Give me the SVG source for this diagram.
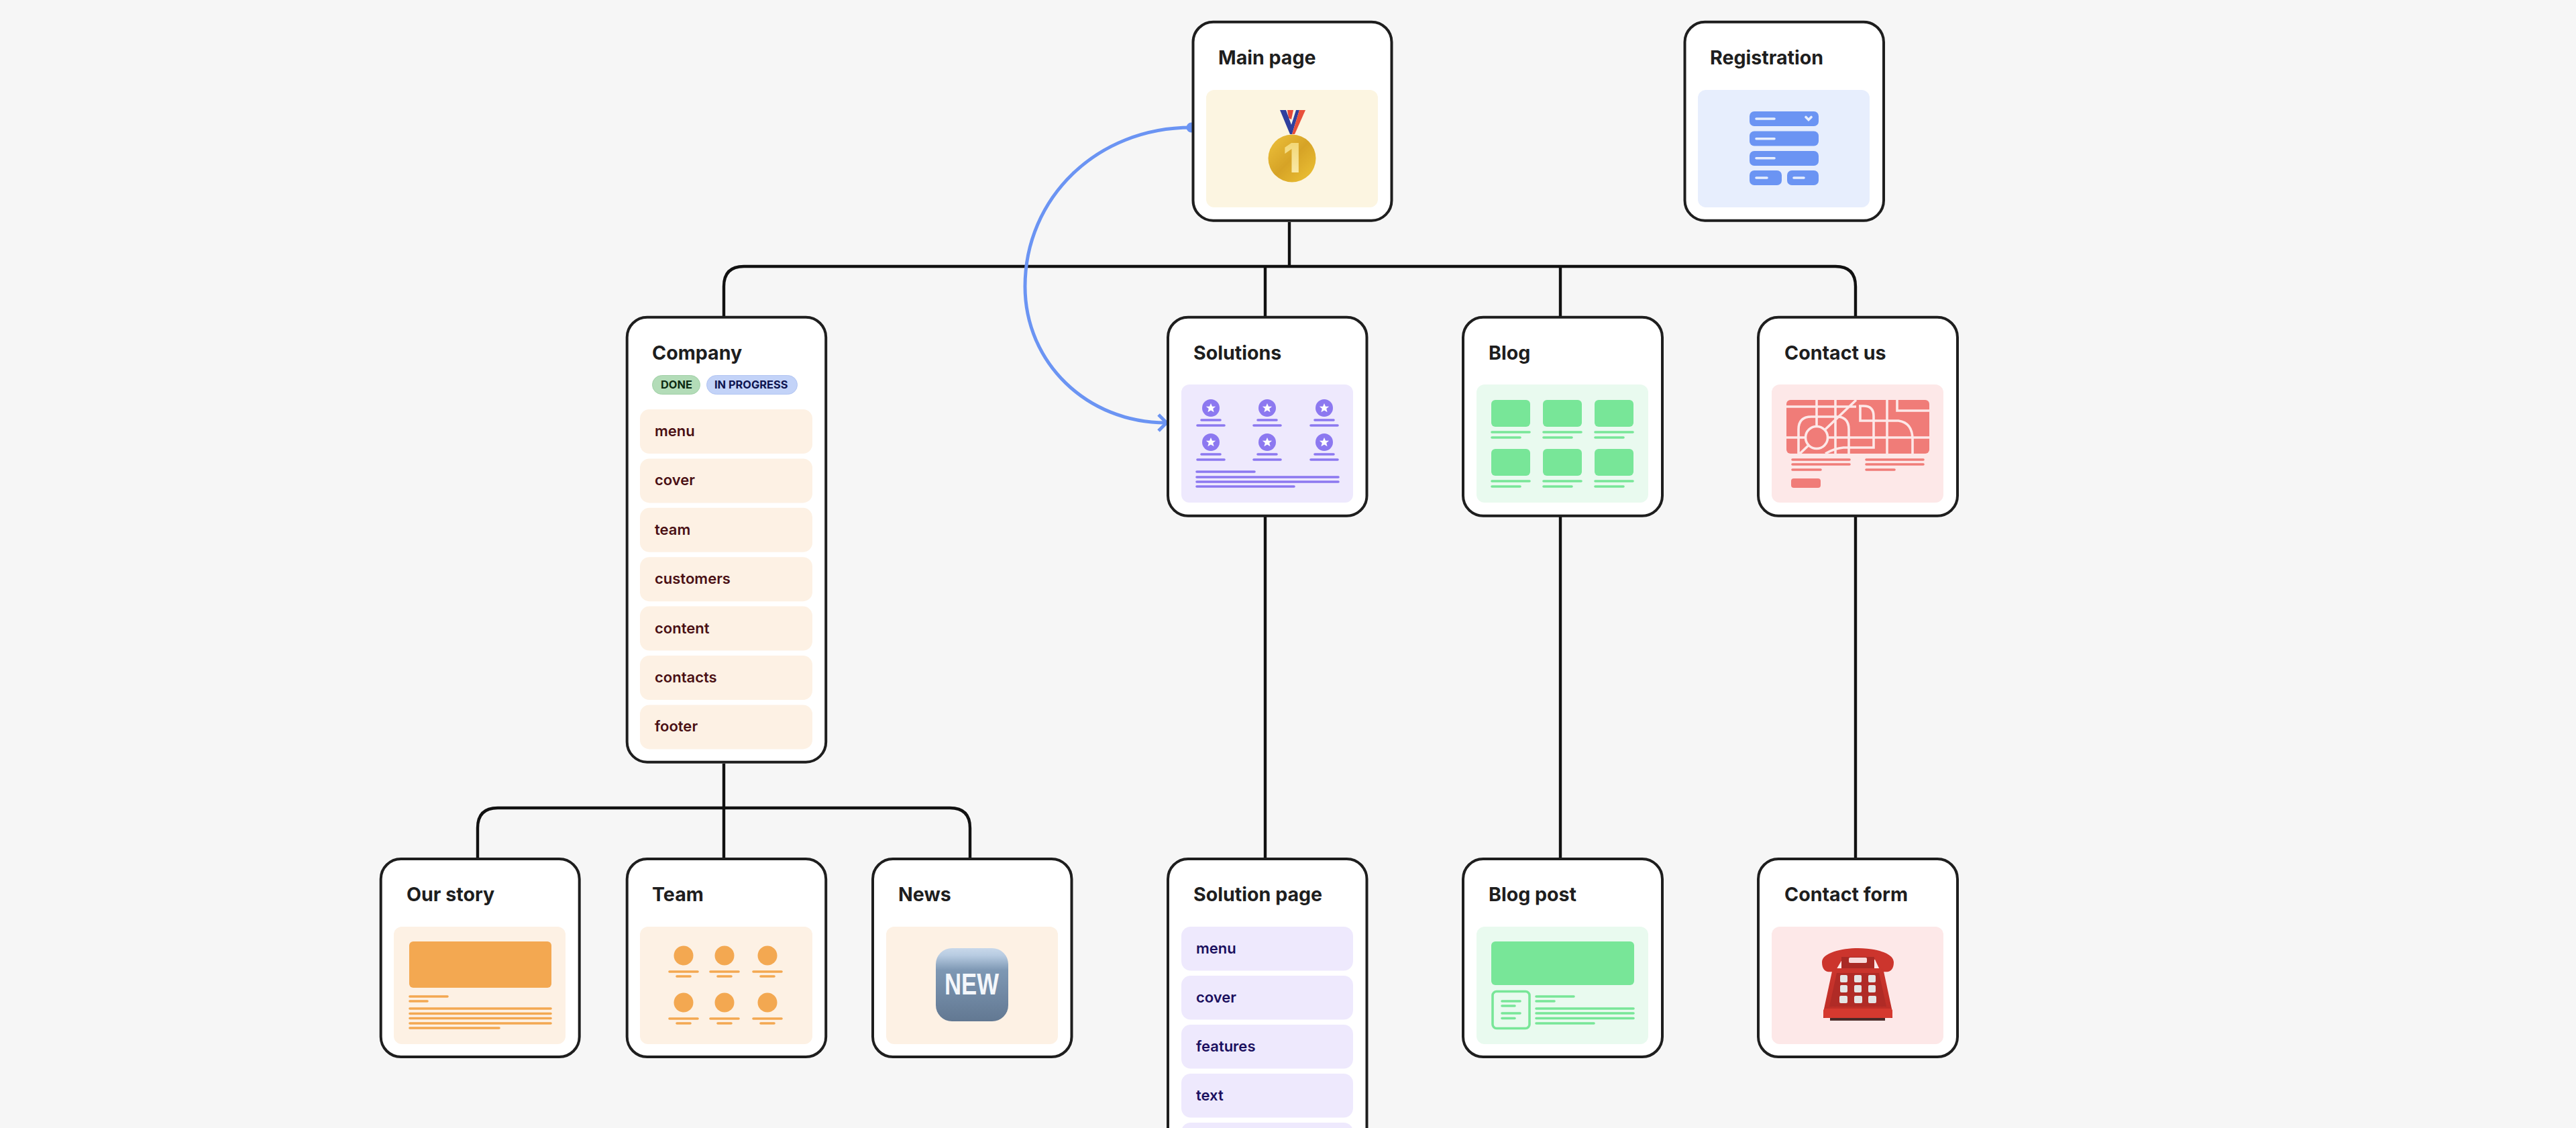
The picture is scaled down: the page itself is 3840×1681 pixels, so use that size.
<svg xmlns="http://www.w3.org/2000/svg" width="3840" height="1681" viewBox="0 0 3840 1681">
<style>
text{font-family:"Inter","Liberation Sans",sans-serif}
.box{fill:#fff;stroke:#1e1e1e;stroke-width:4}
.t{font-size:28.6px;font-weight:700;fill:#1e1e1e}
.ci{font-size:22px;font-weight:600;fill:#4a1014}
.si{font-size:22px;font-weight:600;fill:#1a0f5e}
.bt{font-size:16.4px;font-weight:700}
.cn{fill:none;stroke:#111;stroke-width:4.4}
.ln{fill:none;stroke-width:3.6;stroke-linecap:round}
.pu{stroke:#8c78f0}.gr{stroke:#78e698}.re{stroke:#f07c78}.or{stroke:#f3a851}
.fpu{fill:#8c78f0}.fgr{fill:#78e698}.fre{fill:#f07c78}.for{fill:#f3a851}.fbl{fill:#6b94f3}
.pcream{fill:#fcf5e1}.pblue{fill:#e7eefd}.ppu{fill:#eee9fd}.pgr{fill:#e9faef}.pre{fill:#fde8e8}.por{fill:#fdf1e4}
.map{fill:none;stroke:#fde8e8;stroke-width:3.6}
</style>
<defs>
<linearGradient id="coin" x1="0" y1="0" x2="1" y2="1"><stop offset="0" stop-color="#eec23c"/><stop offset=".5" stop-color="#d6a326"/><stop offset="1" stop-color="#efc436"/></linearGradient>
<linearGradient id="one" x1="0" y1="0" x2="0" y2="1"><stop offset="0" stop-color="#f0d26a"/><stop offset="1" stop-color="#fbeeb4"/></linearGradient>
<linearGradient id="newg" x1="0" y1="0" x2="0" y2="1"><stop offset="0" stop-color="#c8d8ea"/><stop offset=".1" stop-color="#b7cbe1"/><stop offset=".3" stop-color="#7e98b4"/><stop offset="1" stop-color="#627892"/></linearGradient>
<linearGradient id="telg" x1="0" y1="0" x2="0" y2="1"><stop offset="0" stop-color="#cb352d"/><stop offset="1" stop-color="#bb2d26"/></linearGradient>
<path id="star" d="M0-7 2-2.2 7.2-2.2 3.2 1 4.6 6.2 0 3.4-4.6 6.2-3.2 1-7.2-2.2-2-2.2Z" fill="#fff"/>
<g id="award"><circle r="13" class="fpu"/><use href="#star"/><path class="ln pu" d="M-14 18H14M-20 26H20"/></g>
<g id="thumb"><rect width="58" height="40" rx="6" class="fgr"/><path class="ln gr" d="M1 48H57M1 56H43"/></g>
<g id="person"><circle r="14.5" class="for"/><path class="ln or" d="M-21 24H21M-10 31H10"/></g>
</defs>
<rect width="3840" height="1681" fill="#f6f6f6"/>

<g id="connectors">
<path class="cn" d="M1922 331V397"/>
<path class="cn" d="M1079 472V427Q1079 397 1109 397H2736Q2766 397 2766 427V472"/>
<path class="cn" d="M1886 397V472M2326 397V472"/>
<path class="cn" d="M1886 770V1279M2326 770V1279M2766 770V1279"/>
<path class="cn" d="M1079 1138V1279"/>
<path class="cn" d="M712 1279V1234Q712 1204 742 1204H1416Q1446 1204 1446 1234V1279"/>
<path d="M1776 190C1635 190 1528 295 1528 427C1528 540 1620 630 1738 630" fill="none" stroke="#6b94f3" stroke-width="5"/>
<path d="M1727 618 1739 630 1727 642" fill="none" stroke="#6b94f3" stroke-width="5"/>
<circle cx="1776" cy="190" r="7.5" class="fbl"/>
</g>

<g id="node-main">
<rect class="box" x="1778.5" y="32.7" width="296" height="296" rx="30"/>
<text class="t" x="1816" y="95.5">Main page</text>
<rect class="pcream" x="1798" y="134" width="256" height="175" rx="12"/>
<path d="M1919 164H1928L1925 178 1921 176Z" fill="#e2483a"/>
<path d="M1925 180 1937 164H1946L1928 200H1924Z" fill="#f4f4f4"/>
<path d="M1908 164H1917L1925 186 1932 164H1937L1926 200H1923Z" fill="#2f3f9e"/>
<path d="M1937 164H1946L1930 200H1926Z" fill="#e8503a"/>
<circle cx="1926" cy="236" r="35.5" fill="url(#coin)"/>
<text x="1926" y="257" text-anchor="middle" font-size="60" font-weight="800" fill="url(#one)">1</text>
</g>

<g id="node-registration">
<rect class="box" x="2511.5" y="32.7" width="296.5" height="296" rx="30"/>
<text class="t" x="2549" y="95.5">Registration</text>
<rect class="pblue" x="2531" y="134" width="256" height="175" rx="12"/>
<rect class="fbl" x="2608" y="166" width="103" height="22" rx="7"/>
<rect class="fbl" x="2608" y="195.5" width="103" height="22" rx="7"/>
<rect class="fbl" x="2608" y="225" width="103" height="22" rx="7"/>
<rect class="fbl" x="2608" y="254" width="48" height="22" rx="7"/>
<rect class="fbl" x="2664" y="254" width="47" height="22" rx="7"/>
<path d="M2618 177H2645M2618 206.7H2645M2618 235.7H2645M2618 265H2634M2674 265H2689M2692 174.5 2696 178.5 2700 174.5" fill="none" stroke="#e7eefd" stroke-width="3.6" stroke-linecap="round"/>
</g>

<g id="node-company">
<rect class="box" x="934.7" y="472.7" width="296.5" height="663" rx="30"/>
<text class="t" x="972" y="535.5">Company</text>
<rect x="972.5" y="559.5" width="71" height="28" rx="14" fill="#b3dcb8" stroke="#a0d0a6"/>
<text class="bt" x="985" y="579" fill="#0d2b12">DONE</text>
<rect x="1053.5" y="559.5" width="135" height="28" rx="14" fill="#c3d3f8" stroke="#b2c5f2"/>
<text class="bt" x="1065" y="579" fill="#0e1450">IN PROGRESS</text>
<g class="por">
<rect x="954" y="610" width="257" height="66" rx="14"/>
<rect x="954" y="683.4" width="257" height="66" rx="14"/>
<rect x="954" y="756.8" width="257" height="66" rx="14"/>
<rect x="954" y="830.2" width="257" height="66" rx="14"/>
<rect x="954" y="903.6" width="257" height="66" rx="14"/>
<rect x="954" y="977" width="257" height="66" rx="14"/>
<rect x="954" y="1050.4" width="257" height="66" rx="14"/>
</g>
<text class="ci" x="976" y="649.5">menu</text>
<text class="ci" x="976" y="723">cover</text>
<text class="ci" x="976" y="797">team</text>
<text class="ci" x="976" y="870">customers</text>
<text class="ci" x="976" y="943.5">content</text>
<text class="ci" x="976" y="1017">contacts</text>
<text class="ci" x="976" y="1090">footer</text>
</g>

<g id="node-solutions">
<rect class="box" x="1741" y="472.7" width="296.5" height="296" rx="30"/>
<text class="t" x="1779" y="535.5">Solutions</text>
<rect class="ppu" x="1761" y="573" width="256" height="176" rx="12"/>
<use href="#award" x="1805" y="608"/><use href="#award" x="1889" y="608"/><use href="#award" x="1974" y="608"/>
<use href="#award" x="1805" y="659"/><use href="#award" x="1889" y="659"/><use href="#award" x="1974" y="659"/>
<path class="ln pu" d="M1784 703H1870M1784 711H1995M1784 718H1995M1784 725H1929"/>
</g>

<g id="node-blog">
<rect class="box" x="2181" y="472.7" width="297" height="296" rx="30"/>
<text class="t" x="2219" y="535.5">Blog</text>
<rect class="pgr" x="2201" y="573" width="256" height="176" rx="12"/>
<use href="#thumb" x="2223" y="596"/><use href="#thumb" x="2300" y="596"/><use href="#thumb" x="2377" y="596"/>
<use href="#thumb" x="2223" y="669"/><use href="#thumb" x="2300" y="669"/><use href="#thumb" x="2377" y="669"/>
</g>

<g id="node-contact">
<rect class="box" x="2621" y="472.7" width="297" height="296" rx="30"/>
<text class="t" x="2660" y="535.5">Contact us</text>
<rect class="pre" x="2641" y="573" width="256" height="176" rx="12"/>
<rect class="fre" x="2663" y="596" width="213" height="80" rx="6"/>
<path class="map" d="M2663 606H2767M2708 596V636M2736 596V676M2663 652H2876M2767 596 2683 676M2813 596V676M2828 596V612H2876M2681 676V640Q2681 621 2700 621H2738Q2756 621 2756 640V676M2771 605H2778Q2793 605 2793 620V667H2748Q2735 668 2721 676M2773 605V627H2830Q2851 630 2851 655V676"/>
<circle cx="2708" cy="652" r="16.5" class="fre" stroke="#fde8e8" stroke-width="3.6"/>
<path class="ln re" d="M2672 685H2757M2672 692H2757M2672 700H2714M2782 685H2867M2782 692H2867M2782 700H2824"/>
<rect class="fre" x="2670" y="713" width="44" height="14" rx="4"/>
</g>

<g id="node-our-story">
<rect class="box" x="567.7" y="1280" width="296" height="295" rx="30"/>
<text class="t" x="606" y="1342.5">Our story</text>
<rect class="por" x="587" y="1381" width="256" height="175" rx="12"/>
<rect class="for" x="610" y="1403" width="212" height="69" rx="6"/>
<path class="ln or" d="M611 1485H667M611 1492H637M611 1503H821M611 1510.5H821M611 1517.5H821M611 1525H821M611 1532H744"/>
</g>

<g id="node-team">
<rect class="box" x="934.7" y="1280" width="296.5" height="295" rx="30"/>
<text class="t" x="972" y="1342.5">Team</text>
<rect class="por" x="954" y="1381" width="257" height="175" rx="12"/>
<use href="#person" x="1019" y="1424"/><use href="#person" x="1080" y="1424"/><use href="#person" x="1144" y="1424"/>
<use href="#person" x="1019" y="1494"/><use href="#person" x="1080" y="1494"/><use href="#person" x="1144" y="1494"/>
</g>

<g id="node-news">
<rect class="box" x="1301" y="1280" width="296.5" height="295" rx="30"/>
<text class="t" x="1339" y="1342.5">News</text>
<rect class="por" x="1321" y="1381" width="256" height="175" rx="12"/>
<rect x="1395" y="1413" width="108" height="109" rx="24" fill="url(#newg)"/>
<text x="1408" y="1482" font-size="44" font-weight="700" fill="#f4f7fb" textLength="81" lengthAdjust="spacingAndGlyphs" style="font-family:'Liberation Sans',sans-serif">NEW</text>
</g>

<g id="node-solution-page">
<rect class="box" x="1741" y="1280" width="296.5" height="620" rx="30"/>
<text class="t" x="1779" y="1342.5">Solution page</text>
<g class="ppu">
<rect x="1761" y="1381" width="256" height="65.5" rx="14"/>
<rect x="1761" y="1454" width="256" height="65.5" rx="14"/>
<rect x="1761" y="1527" width="256" height="65.5" rx="14"/>
<rect x="1761" y="1600" width="256" height="65.5" rx="14"/>
<rect x="1761" y="1673" width="256" height="65.5" rx="14"/>
</g>
<text class="si" x="1783" y="1420.5">menu</text>
<text class="si" x="1783" y="1494">cover</text>
<text class="si" x="1783" y="1567">features</text>
<text class="si" x="1783" y="1640">text</text>
</g>

<g id="node-blog-post">
<rect class="box" x="2181" y="1280" width="297" height="295" rx="30"/>
<text class="t" x="2219" y="1342.5">Blog post</text>
<rect class="pgr" x="2201" y="1381" width="256" height="175" rx="12"/>
<rect class="fgr" x="2223" y="1403" width="213" height="65" rx="6"/>
<rect x="2225" y="1477.5" width="55" height="55" rx="6" fill="none" stroke="#78e698" stroke-width="3.6"/>
<path class="ln gr" d="M2239 1492H2266M2239 1499H2258M2239 1510H2266M2239 1517.5H2258M2290 1485H2346M2290 1492H2317M2290 1503H2435M2290 1510H2435M2290 1517.5H2435M2290 1525H2376"/>
</g>

<g id="node-contact-form">
<rect class="box" x="2621" y="1280" width="297" height="295" rx="30"/>
<text class="t" x="2660" y="1342.5">Contact form</text>
<rect class="pre" x="2641" y="1381" width="256" height="175" rx="12"/>
<path d="M2716 1434C2716 1420 2745 1413 2770 1413C2795 1413 2823 1420 2823 1434C2823 1449 2813 1450 2803 1447L2795 1430H2746L2736 1447C2726 1450 2716 1449 2716 1434Z" fill="#cc352d"/>
<rect x="2745" y="1426" width="49" height="20" fill="#a92a25"/>
<rect x="2756" y="1427" width="27" height="8" rx="2" fill="#f8dcdc"/>
<path d="M2732 1443H2807L2821 1508V1517H2718V1508Z" fill="url(#telg)"/>
<path d="M2738 1450H2801L2812 1500H2727Z" fill="#b02b26"/>
<rect x="2718" y="1503" width="103" height="14" rx="4" fill="#d5392f"/>
<rect x="2728" y="1517" width="82" height="4" fill="#4a2a28"/>
<g fill="#e4e4e4">
<rect x="2743" y="1453" width="11" height="11" rx="2"/><rect x="2764" y="1453" width="11" height="11" rx="2"/><rect x="2785" y="1453" width="11" height="11" rx="2"/>
<rect x="2743" y="1468" width="11" height="11" rx="2"/><rect x="2764" y="1468" width="11" height="11" rx="2"/><rect x="2785" y="1468" width="11" height="11" rx="2"/>
<rect x="2742" y="1484" width="12" height="11" rx="2"/><rect x="2764" y="1484" width="12" height="11" rx="2"/><rect x="2785" y="1484" width="12" height="11" rx="2"/>
</g>
</g>
</svg>
